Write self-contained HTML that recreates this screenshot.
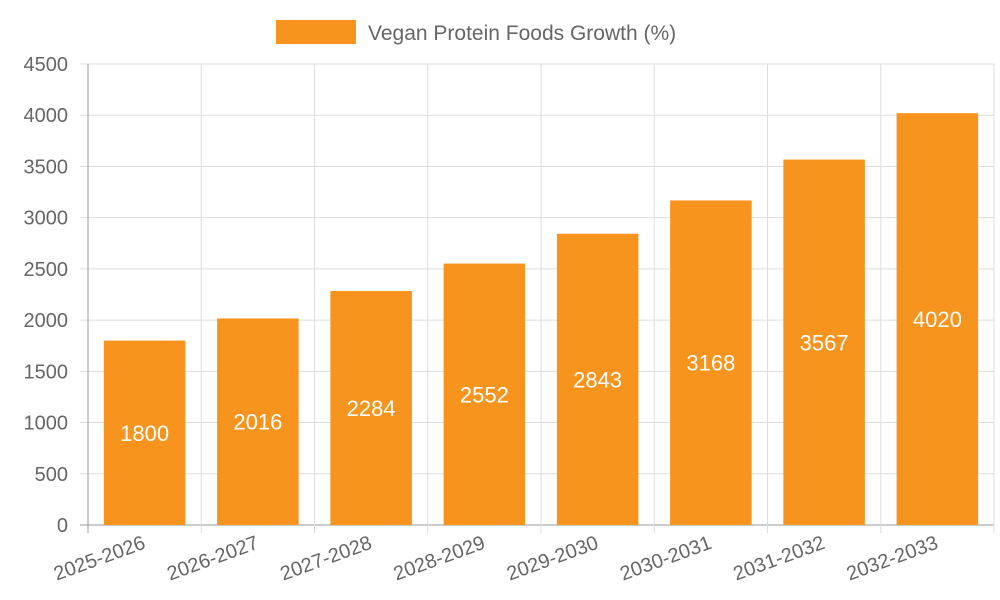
<!DOCTYPE html>
<html><head><meta charset="utf-8"><style>
body{margin:0;background:#fff;}
svg{display:block;font-family:"Liberation Sans",sans-serif;}
</style></head><body>
<svg id="chart" width="1000" height="600">
<g>
<rect x="276" y="20" width="80" height="24" fill="#F7941D"/>
<text x="368" y="40" font-size="21" fill="#666">Vegan Protein Foods Growth (%)</text>
</g>
<g id="grid"></g><g id="bars"></g><g id="labels"></g>
</svg>
<script>
const categories=["2025-2026","2026-2027","2027-2028","2028-2029","2029-2030","2030-2031","2031-2032","2032-2033"];
const values=[1800,2016,2284,2552,2843,3168,3567,4020];
const yTicks=[0,500,1000,1500,2000,2500,3000,3500,4000,4500];
const L=88,R=994,T=64,B=525,yMax=4500;
const ns="http://www.w3.org/2000/svg";
const band=(R-L)/categories.length;
const y=v=>B-(v/yMax)*(B-T);
const x=i=>L+band*i;
function mk(tag,attrs,parent){const e=document.createElementNS(ns,tag);for(const k in attrs)e.setAttribute(k,attrs[k]);parent.appendChild(e);return e;}
const grid=document.getElementById('grid'),bars=document.getElementById('bars'),labels=document.getElementById('labels');
yTicks.forEach(t=>{
  const l=mk('line',{x1:L-8,x2:R,y1:y(t),y2:y(t),stroke:t===0?'#999':'#ddd','stroke-width':1},grid);
  
  
  const tx=mk('text',{x:L-20,y:y(t)+7,'text-anchor':'end','font-size':20,fill:'#666'},grid);
  tx.textContent=t;
  
  
});
for(let i=0;i<=categories.length;i++){
  const l=mk('line',{x1:x(i),x2:x(i),y1:T,y2:B+8,stroke:i===0?'#999':'#ddd','stroke-width':1},grid);
  
  
}
categories.forEach((c,i)=>{
  const bw=band*0.72,cx=x(i)+band/2;
  const r=mk('rect',{x:cx-bw/2,y:y(values[i]),width:bw,height:B-y(values[i]),fill:'#F7941D'},bars);
  
  
  const v=mk('text',{x:cx,y:(y(values[i])+B)/2+8,'text-anchor':'middle','font-size':22,fill:'#fff'},labels);
  v.textContent=values[i];
  
  
  const t=mk('text',{x:cx+2,y:548,'text-anchor':'end','font-size':20,fill:'#666',transform:`rotate(-20 ${cx+2} 548)`},labels);
  t.textContent=c;
  
  
});
</script>
</body></html>
